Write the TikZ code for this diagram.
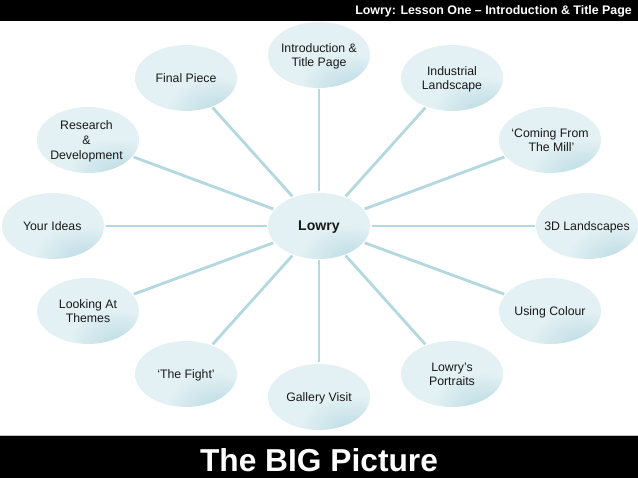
\documentclass[tikz,border=0pt]{standalone}
\usepackage{fontspec}
\setmainfont{Liberation Sans}
\usetikzlibrary{shapes.geometric}
\definecolor{linkc}{HTML}{B4D8DF}
\definecolor{bubc}{HTML}{E3F1F4}
\definecolor{bubd}{HTML}{B6D8E1}
\pgfdeclareradialshading{bubble}{\pgfpoint{19bp}{-30bp}}{color(0bp)=(bubd); color(7bp)=(bubd!75!bubc); color(24bp)=(bubc); color(100bp)=(bubc)}
\newcommand\bubtext[1]{\smash{\raisebox{-4.5pt}{\makebox[0pt]{\begin{tabular}{@{}c@{}}#1\end{tabular}}}}}
\tikzset{
  bubblenode/.style={ellipse,inner sep=0pt,outer sep=0pt,minimum width=102pt,minimum height=66pt,shading=bubble,font=\fontsize{12.3}{14.7}\selectfont,text=black!90},
  hub/.style={bubblenode,font=\fontsize{14.1}{17}\selectfont\bfseries},
  link/.style={draw=linkc,line width=2.8pt,shorten <=1.5pt,shorten >=1.5pt},
  band/.style={fill=black,draw=none}
}
\begin{document}
\begin{tikzpicture}[x=1pt,y=-1pt]
\useasboundingbox (0,0) rectangle (638,478);
\fill[white] (0,0) rectangle (638,478);
\fill[band] (0,0) rectangle (638,21);
\fill[black!25] (0,435) rectangle (638,436);
\fill[band] (0,436) rectangle (638,478);
\node[anchor=east,text=white,inner sep=0pt,font=\fontsize{12.4}{15}\selectfont\bfseries] (head) at (632,11) {Lowry: Lesson One – Introduction \& Title Page};
\node[text=white,inner sep=0pt,font=\fontsize{31.7}{38}\selectfont\bfseries] (title) at (319,460) {The BIG Picture};
\node[hub] (lowry) at (319,226) {\bubtext{Lowry}};
\node[bubblenode] (intro) at (319,55) {\bubtext{Introduction \&\\Title Page}};
\node[bubblenode] (indus) at (452,78) {\bubtext{Industrial\\Landscape}};
\node[bubblenode] (mill) at (550,140) {\bubtext{‘Coming From\\\hspace{3pt}The Mill’}};
\node[bubblenode] (three) at (587,226) {\bubtext{3D Landscapes}};
\node[bubblenode] (colour) at (550,311) {\bubtext{Using Colour}};
\node[bubblenode] (port) at (452,374) {\bubtext{Lowry’s\\Portraits}};
\node[bubblenode] (gallery) at (319,397) {\bubtext{Gallery Visit}};
\node[bubblenode] (fight) at (186,374) {\bubtext{‘The Fight’}};
\node[bubblenode] (themes) at (88,311) {\bubtext{Looking At\\Themes}};
\node[bubblenode] (ideas) at (53,226) {\hspace{-1.5pt}\bubtext{Your Ideas}};
\node[bubblenode] (research) at (88,140) {\hspace{-3pt}\bubtext{Research\\\&\\Development}};
\node[bubblenode] (final) at (186,78) {\bubtext{Final Piece}};
\foreach \t in {intro,indus,mill,three,colour,port,gallery,fight,themes,ideas,research,final}
  \draw[link] (lowry) -- (\t);
\end{tikzpicture}
\end{document}
